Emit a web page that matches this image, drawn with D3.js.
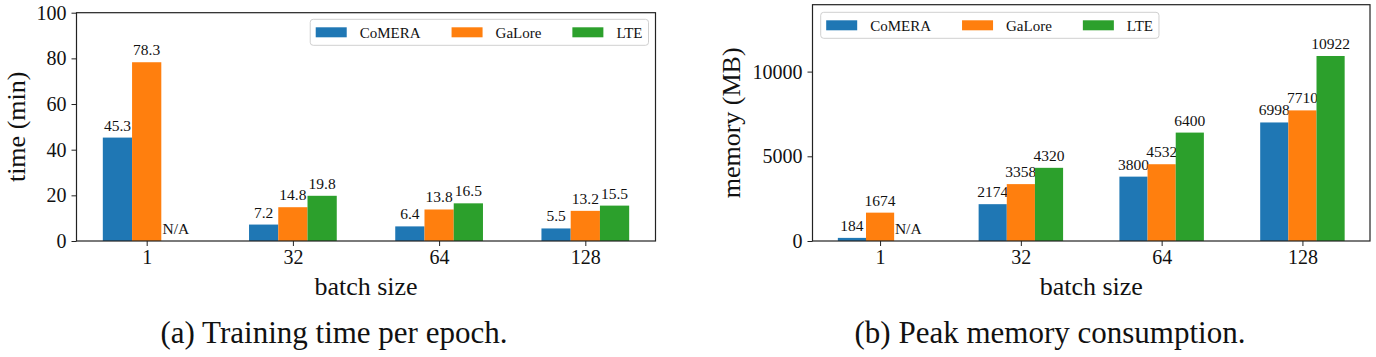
<!DOCTYPE html>
<html lang="en">
  <head>
    <meta charset="UTF-8" />
    <title>time and memory</title>
    <style>
      body { margin: 0; background: #fff; }
      svg text { font-family: 'Liberation Serif', 'DejaVu Serif', serif !important; fill: #111; }
    </style>
  </head>
  <body>
    <svg id="svg" width="1376" height="357"></svg>
    <script src="https://cdn.jsdelivr.net/npm/d3@7"></script>
    <script>
      // data
      const batchSizes = ['1', '32', '64', '128']
      const seriesNames = ['CoMERA', 'GaLore', 'LTE']
      const seriesColors = ['#1f77b4', '#ff7f0e', '#2ca02c']

      const timeCoMERA = [45.3, 7.2, 6.4, 5.5]
      const timeGaLore = [78.3, 14.8, 13.8, 13.2]
      const timeLTE = [null, 19.8, 16.5, 15.5] // N/A for batch 1

      const memCoMERA = [184, 2174, 3800, 6998]
      const memGaLore = [1674, 3358, 4532, 7710]
      const memLTE = [null, 4320, 6400, 10922]

      const timeTicks = [0, 20, 40, 60, 80, 100]
      const memTicks = [0, 5000, 10000]

      const svg = d3.select('#svg')
      const serif = "'Liberation Serif', 'DejaVu Serif', serif"

      function drawChart(o) {
        const g = svg.append('g')
        const x = d3.scaleLinear().domain([-0.48, 3.48]).range([o.left, o.right])
        const y = d3.scaleLinear().domain(o.yDomain).range([o.bottom, o.top])
        const bw = 0.2

        // bars
        o.series.forEach((vals, s) => {
          const off = (s - 1) * bw
          const items = vals.map((v, i) => ({ v: v, i: i }))
          g.selectAll(null)
            .data(items.filter((d) => d.v !== null))
            .enter()
            .append('rect')
            .attr('x', (d) => x(d.i + off - bw / 2))
            .attr('width', (d) => x(bw) - x(0))
            .attr('y', (d) => y(d.v))
            .attr('height', (d) => y(0) - y(d.v))
            .attr('fill', seriesColors[s])

          g.selectAll(null)
            .data(items)
            .enter()
            .append('text')
            .attr('x', (d) => x(d.i + off))
            .attr('y', (d) => y(d.v === null ? 0 : d.v) - 7)
            .attr('text-anchor', 'middle')
            .attr('font-size', 15.5)
            .text((d) => (d.v === null ? 'N/A' : o.fmt(d.v)))
        })

        // axes
        const ya = d3.axisLeft(y).tickValues(o.ticks).tickFormat(d3.format('d')).tickSize(5).tickPadding(5)
        const gy = g.append('g').attr('transform', `translate(${o.left},0)`).call(ya)
        const xa = d3
          .axisBottom(x)
          .tickValues(d3.range(batchSizes.length))
          .tickFormat((d) => batchSizes[d])
          .tickSize(5)
          .tickPadding(4)
        const gx = g.append('g').attr('transform', `translate(0,${o.bottom})`).call(xa)
        ;[gx, gy].forEach((a) => {
          a.attr('font-family', null).attr('font-size', null)
          a.select('.domain').remove()
          a.selectAll('line').attr('stroke', '#222')
          a.selectAll('text').style('font-size', '20px').style('font-family', serif).attr('fill', '#111')
        })

        // frame
        g.append('rect')
          .attr('x', o.left)
          .attr('y', o.top)
          .attr('width', o.right - o.left)
          .attr('height', o.bottom - o.top)
          .attr('fill', 'none')
          .attr('stroke', '#222')
          .attr('stroke-width', 1.2)

        // axis titles
        g.append('text')
          .attr('x', (o.left + o.right) / 2)
          .attr('y', o.bottom + 54)
          .attr('text-anchor', 'middle')
          .attr('font-size', 26)
          .text('batch size')
        g.append('text')
          .attr('transform', `translate(${o.ylabX},${(o.top + o.bottom) / 2}) rotate(-90)`)
          .attr('text-anchor', 'middle')
          .attr('dy', '0.35em')
          .attr('font-size', 26)
          .text(o.ylabel)

        // legend
        const lg = g.append('g')
        const box = lg.append('rect')
        let cx = o.legX + 5.5
        const cy = o.legY + 13
        seriesNames.forEach((name, s) => {
          lg.append('rect').attr('x', cx).attr('y', cy - 5).attr('width', 31).attr('height', 10).attr('fill', seriesColors[s])
          const t = lg
            .append('text')
            .attr('x', cx + 44)
            .attr('y', cy)
            .attr('dy', '0.35em')
            .attr('font-size', 15)
            .text(name)
          cx = cx + 44 + t.node().getComputedTextLength() + 31
        })
        const legW = cx - 31 + 6 - o.legX
        box
          .attr('x', o.legX)
          .attr('y', o.legY)
          .attr('width', legW)
          .attr('height', 26)
          .attr('rx', 3)
          .attr('fill', '#fff')
          .attr('fill-opacity', 0.8)
          .attr('stroke', '#d0d0d0')
        if (o.legAnchor === 'right') {
          lg.attr('transform', `translate(${o.right - 7 - legW - o.legX},0)`)
        }

        // caption
        svg.append('text')
          .attr('x', o.capX)
          .attr('y', 343)
          .attr('text-anchor', 'middle')
          .attr('font-size', 31)
          .text(o.caption)
      }

      drawChart({
        left: 76.5,
        right: 655.5,
        top: 12.7,
        bottom: 241,
        yDomain: [0, 100],
        ticks: timeTicks,
        series: [timeCoMERA, timeGaLore, timeLTE],
        fmt: (v) => v.toFixed(1),
        ylabel: 'time (min)',
        ylabX: 16,
        legX: 0,
        legY: 19.3,
        legAnchor: 'right',
        caption: '(a) Training time per epoch.',
        capX: 334,
      })

      drawChart({
        left: 812.5,
        right: 1370,
        top: 4.7,
        bottom: 241,
        yDomain: [0, 13950],
        ticks: memTicks,
        series: [memCoMERA, memGaLore, memLTE],
        fmt: (v) => String(v),
        ylabel: 'memory (MB)',
        ylabX: 731,
        legX: 820.7,
        legY: 12.3,
        legAnchor: 'left',
        caption: '(b) Peak memory consumption.',
        capX: 1050,
      })
    </script>
  </body>
</html>
